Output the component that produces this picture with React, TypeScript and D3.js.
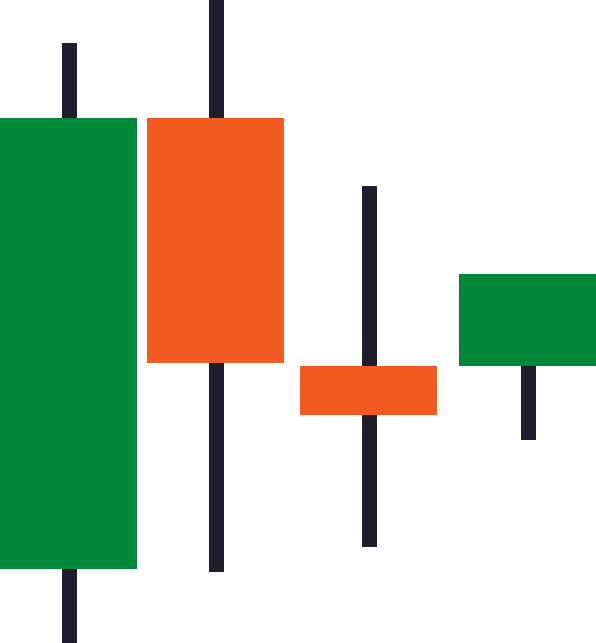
import React from "react";
import * as d3 from "d3";

const times = [0, 9.6, 19.6, 30];
const opens = [47.4, 92.5, 67.7, 67.7];
const closes = [92.5, 68.0, 62.8, 76.9];
const highs = [100.0, 104.3, 85.7, 76.9];
const lows = [40.0, 47.1, 49.6, 60.3];

const W = 596;
const H = 643;
const BODY_W = 137;
const WICK_W = 15;
const UP = "#00873c";
const DOWN = "#f25a22";
const WICK = "#1e1e2f";

export default function App() {
  const x = d3.scaleLinear().domain([d3.min(times)!, d3.max(times)!]).range([69, 528]);
  const y = d3.scaleLinear().domain([d3.min(lows)!, d3.max(highs)!]).range([H, 0]);
  const data = times.map((t, i) => ({ t, o: opens[i], c: closes[i], h: highs[i], l: lows[i] }));
  return (
    <svg
      width={W}
      height={H}
      style={{ position: "fixed", left: 0, top: 0, background: "#fff", display: "block" }}
      shapeRendering="crispEdges"
    >
      <g>
        {data.map((d, i) => (
          <rect key={"w" + i} x={x(d.t) - WICK_W / 2 + 0.5} y={y(d.h)} width={WICK_W} height={y(d.l) - y(d.h)} fill={WICK} />
        ))}
      </g>
      <g>
        {data.map((d, i) => {
          const top = y(Math.max(d.o, d.c));
          const bot = y(Math.min(d.o, d.c));
          return (
            <rect
              key={"b" + i}
              x={x(d.t) - BODY_W / 2 - 0.5}
              y={top}
              width={BODY_W}
              height={bot - top}
              fill={d.c >= d.o ? UP : DOWN}
            />
          );
        })}
      </g>
    </svg>
  );
}
